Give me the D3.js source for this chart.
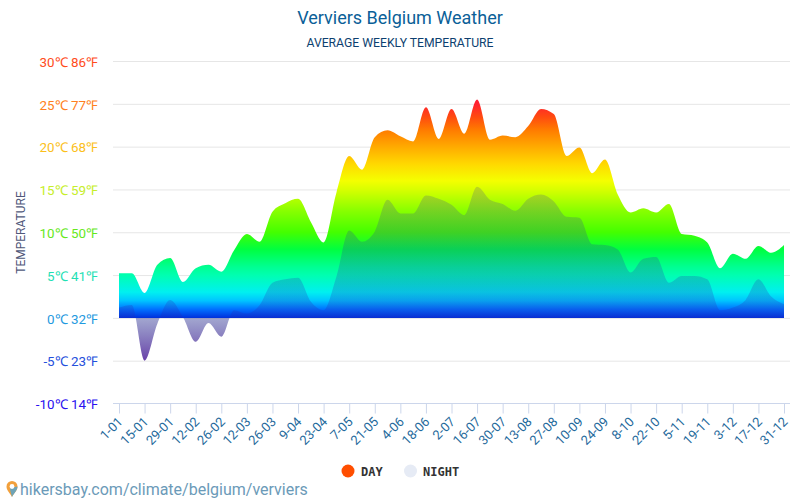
<!DOCTYPE html>
<html>
<head>
<meta charset="utf-8">
<script src="https://cdn.jsdelivr.net/npm/d3@7"></script>
<style>
html,body{margin:0;padding:0;background:#fff}
svg{display:block;font-family:Roboto,sans-serif}
</style>
</head>
<body>
<svg id="chart" width="800" height="500"></svg>
<script>
const tickLabels = ["1-01","15-01","29-01","12-02","26-02","12-03","26-03","9-04","23-04","7-05","21-05","4-06","18-06","2-07","16-07","30-07","13-08","27-08","10-09","24-09","8-10","22-10","5-11","19-11","3-12","17-12","31-12"];
const dayValues = [5.2,5.2,2.9,6.2,7.0,4.2,5.8,6.2,5.4,7.9,9.8,8.9,12.4,13.4,13.9,11.2,8.8,14.6,18.9,17.3,21.1,21.9,21.2,20.6,24.6,20.9,24.4,21.5,25.5,20.8,21.3,21.1,22.4,24.4,23.8,18.9,19.9,16.9,18.5,14.4,12.3,12.8,12.3,13.3,9.8,9.6,8.8,5.8,7.5,6.9,8.4,7.6,8.5];
const nightValues = [1.2,1.5,-5.0,-0.7,2.1,0.1,-2.8,-0.6,-2.2,0.9,0.5,1.5,4.1,4.5,4.7,1.9,0.9,4.8,10.2,8.9,10.1,13.8,12.2,12.2,14.3,13.9,13.2,12.0,15.3,13.8,13.3,12.5,13.9,14.4,13.6,11.8,11.7,8.6,8.5,8.0,5.3,6.9,7.1,4.1,4.9,4.9,4.5,0.9,1.2,2.1,4.5,2.5,1.6];
const yTicks = [30,25,20,15,10,5,0,-5,-10];
const yTickF = [86,77,68,59,50,41,32,23,14];
const yTickColors = ["#ff4d1c","#ff7f20","#fbbf1c","#c6ee2a","#66e81c","#1fe0b4","#1f9ae0","#2450dc","#2a10f0"];
const dayStops = [[30,"#ff0040"],[25,"#ff2030"],[23.5,"#ff4a10"],[22,"#ff7a00"],[20,"#ffaa00"],[18,"#ffd800"],[16,"#f4ff00"],[15,"#d8ff00"],[12.5,"#88ff00"],[10,"#44ff00"],[8,"#00ff40"],[6,"#00ff90"],[5,"#00ffb0"],[3,"#00f0f0"],[2,"#00c4ff"],[1,"#0070ff"],[0,"#0030dc"]];
const nightStops = [[16,"#322ca0",0.2],[0.02,"#2828b4",0.24],[0,"#464ea0",0.5],[-5,"#50209a",0.85]];

const svg = d3.select("#chart");
const x = d3.scaleLinear().domain([0,52]).range([119,784]);
const y = d3.scaleLinear().domain([-10,30]).range([403.5,61]);

const defs = svg.append("defs");
function gradient(id, stops){
  const g = defs.append("linearGradient").attr("id",id)
    .attr("gradientUnits","userSpaceOnUse")
    .attr("x1",0).attr("x2",0)
    .attr("y1",y(stops[0][0])).attr("y2",y(stops[stops.length-1][0]));
  const span = y(stops[stops.length-1][0]) - y(stops[0][0]);
  stops.forEach(s=>{
    g.append("stop").attr("offset",(y(s[0])-y(stops[0][0]))/span)
      .attr("stop-color",s[1]).attr("stop-opacity",s[2]===undefined?1:s[2]);
  });
}
gradient("dayFill",dayStops);
gradient("nightFill",nightStops);

// grid + y labels
svg.append("g").attr("transform","translate(790,0)")
  .call(d3.axisRight(y).tickValues(yTicks.slice(0,-1)).tickSize(-677).tickFormat(""))
  .call(g=>g.select(".domain").remove())
  .call(g=>g.selectAll("line").attr("stroke","#e6e6e6").attr("stroke-width",1));

svg.append("g").attr("transform","translate(113,1)")
  .call(d3.axisLeft(y).tickValues(yTicks).tickSize(0).tickPadding(15)
    .tickFormat(d=>{const i=yTicks.indexOf(d);return d+"℃ "+yTickF[i]+"℉";}))
  .call(g=>g.select(".domain").remove())
  .call(g=>g.selectAll("text").attr("font-family","Roboto,sans-serif").attr("font-size",13.4)
    .attr("fill",d=>yTickColors[yTicks.indexOf(d)]));

// areas
const idx = d3.range(dayValues.length);
const area = vals => d3.area().x(i=>x(i)).y0(y(0)).y1(i=>y(vals[i])).curve(d3.curveMonotoneX);
svg.append("path").attr("d",area(dayValues)(idx)).attr("fill","url(#dayFill)");
svg.append("path").attr("d",area(nightValues)(idx)).attr("fill","url(#nightFill)");

// x axis
const xAxis = svg.append("g").attr("transform","translate(0,403.5)")
  .call(d3.axisBottom(x).tickValues(d3.range(0,53,2)).tickSize(10).tickPadding(3)
    .tickFormat((d,i)=>tickLabels[i]));
xAxis.select(".domain").attr("d","M113,0H790").attr("stroke","#ccd6eb");
xAxis.selectAll("line").attr("stroke","#ccd6eb");
xAxis.selectAll("text").attr("font-family","Roboto,sans-serif").attr("font-size",13)
  .attr("fill","#1f6a9c").attr("text-anchor","end").attr("dy",0)
  .attr("transform","translate(4,19) rotate(-45)").attr("y",0).attr("x",0);

// titles
svg.append("text").attr("x",400).attr("y",24).attr("text-anchor","middle")
  .attr("font-size",18).attr("fill","#0b5f98").text("Verviers Belgium Weather");
svg.append("text").attr("x",400).attr("y",46.5).attr("text-anchor","middle")
  .attr("font-size",12.2).attr("fill","#0d3f70").text("AVERAGE WEEKLY TEMPERATURE");
svg.append("text").attr("transform","translate(25,232.5) rotate(-90)").attr("text-anchor","middle")
  .attr("font-size",12).attr("fill","#50587a").text("TEMPERATURE");

// legend
const legendItems = [{name:"DAY",color:"#ff4e00",cx:348,tx:361},{name:"NIGHT",color:"#e6ebf5",cx:410.5,tx:423}];
legendItems.forEach(l=>{
  svg.append("circle").attr("cx",l.cx).attr("cy",471).attr("r",6.5).attr("fill",l.color);
  svg.append("text").attr("x",l.tx).attr("y",475.5)
    .attr("font-family","'DejaVu Sans Mono',monospace").attr("font-weight","bold")
    .attr("font-size",12).attr("fill","#333").text(l.name);
});

// footer
const pin = svg.append("g").attr("transform","translate(12,488)");
pin.append("path").attr("d","M0,9 C-2,5 -5.5,2.5 -5.5,-1.5 A5.5,5.5 0 0 1 5.5,-1.5 C5.5,2.5 2,5 0,9Z").attr("fill","#f2a03c");
pin.append("path").attr("d","M0,9 C-1,5 -2,3 -2,0 L5.5,-1.5 C5.5,2.5 2,5 0,9Z").attr("fill","#6ea4b8");
pin.append("circle").attr("cx",0).attr("cy",-1.5).attr("r",2.4).attr("fill","#fff");
svg.append("text").attr("x",20).attr("y",495).attr("font-size",16).attr("fill","#6b9ab8")
  .text("hikersbay.com/climate/belgium/verviers");
</script>
</body>
</html>
